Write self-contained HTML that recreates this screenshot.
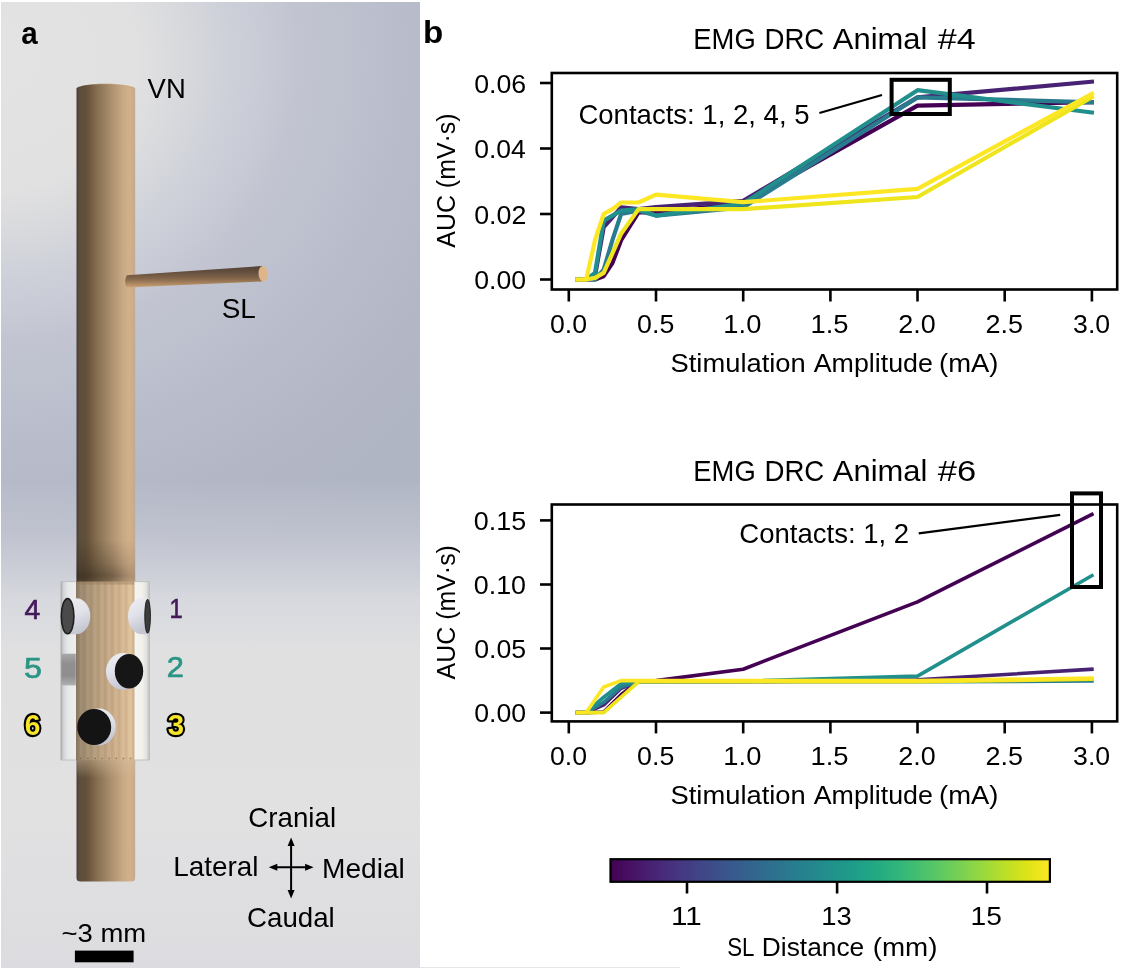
<!DOCTYPE html>
<html><head><meta charset="utf-8"><style>
html,body{margin:0;padding:0;background:#fff;}
body{width:1125px;height:971px;overflow:hidden;position:relative;}
svg{position:absolute;left:0;top:0;will-change:transform;}
text{font-family:"Liberation Sans", sans-serif;}
</style></head><body>
<svg width="1125" height="971" viewBox="0 0 1125 971">
<defs>
<linearGradient id="vir" x1="0" x2="1" y1="0" y2="0"><stop offset="0.000" stop-color="#440154"/>
<stop offset="0.050" stop-color="#471365"/>
<stop offset="0.100" stop-color="#482475"/>
<stop offset="0.150" stop-color="#463480"/>
<stop offset="0.200" stop-color="#414487"/>
<stop offset="0.250" stop-color="#3b528b"/>
<stop offset="0.300" stop-color="#355f8d"/>
<stop offset="0.350" stop-color="#2f6c8e"/>
<stop offset="0.400" stop-color="#2a788e"/>
<stop offset="0.450" stop-color="#25848e"/>
<stop offset="0.500" stop-color="#21918c"/>
<stop offset="0.550" stop-color="#1e9c89"/>
<stop offset="0.600" stop-color="#22a884"/>
<stop offset="0.650" stop-color="#2fb47c"/>
<stop offset="0.700" stop-color="#44bf70"/>
<stop offset="0.750" stop-color="#5ec962"/>
<stop offset="0.800" stop-color="#7ad151"/>
<stop offset="0.850" stop-color="#9bd93c"/>
<stop offset="0.900" stop-color="#bddf26"/>
<stop offset="0.950" stop-color="#dfe318"/>
<stop offset="1.000" stop-color="#fde725"/></linearGradient>
</defs>
<defs>
<radialGradient id="bgr" gradientUnits="userSpaceOnUse" cx="0" cy="60" r="560" gradientTransform="translate(0 60) scale(1.06 1) translate(0 -60)">
  <stop offset="0" stop-color="#e3e3e4"/>
  <stop offset="0.23" stop-color="#e1e1e2"/>
  <stop offset="0.30" stop-color="#d9dadd"/>
  <stop offset="0.39" stop-color="#cdd0d9"/>
  <stop offset="0.45" stop-color="#c8cbd5"/>
  <stop offset="0.5" stop-color="#c2c5d1"/>
  <stop offset="0.7" stop-color="#b8bbca"/>
  <stop offset="0.84" stop-color="#b2b6c5"/>
  <stop offset="1" stop-color="#b0b5c4"/>
</radialGradient>
<linearGradient id="floor" gradientUnits="userSpaceOnUse" x1="0" y1="480" x2="0" y2="968">
  <stop offset="0" stop-color="#dcdde3" stop-opacity="0"/>
  <stop offset="0.031" stop-color="#dcdde3" stop-opacity="0.12"/>
  <stop offset="0.102" stop-color="#dcdde3" stop-opacity="0.3"/>
  <stop offset="0.184" stop-color="#dcdde2" stop-opacity="0.62"/>
  <stop offset="0.246" stop-color="#dddee2" stop-opacity="0.87"/>
  <stop offset="0.348" stop-color="#e0e0e1" stop-opacity="1"/>
  <stop offset="0.7" stop-color="#e1e1e2" stop-opacity="1"/>
  <stop offset="1" stop-color="#dcdce0" stop-opacity="1"/>
</linearGradient>
<linearGradient id="nerve" x1="0" y1="0" x2="1" y2="0">
  <stop offset="0" stop-color="#4a3c34"/>
  <stop offset="0.05" stop-color="#5c4e3c"/>
  <stop offset="0.15" stop-color="#60503a"/>
  <stop offset="0.22" stop-color="#6c583e"/>
  <stop offset="0.3" stop-color="#7e6548"/>
  <stop offset="0.4" stop-color="#8c7558"/>
  <stop offset="0.5" stop-color="#9c8462"/>
  <stop offset="0.6" stop-color="#ae9070"/>
  <stop offset="0.7" stop-color="#bc9d7a"/>
  <stop offset="0.8" stop-color="#c9aa88"/>
  <stop offset="0.9" stop-color="#d2b088"/>
  <stop offset="0.95" stop-color="#cfad88"/>
  <stop offset="1" stop-color="#bcab98"/>
</linearGradient>
<linearGradient id="nshade" x1="0" y1="0" x2="0" y2="1">
  <stop offset="0" stop-color="#2a2014" stop-opacity="0"/>
  <stop offset="0.55" stop-color="#2a2014" stop-opacity="0.25"/>
  <stop offset="0.85" stop-color="#2a2014" stop-opacity="0.5"/>
  <stop offset="1" stop-color="#2a2014" stop-opacity="0.35"/>
</linearGradient>
<linearGradient id="nshadeh" x1="0" y1="0" x2="1" y2="0">
  <stop offset="0" stop-color="#fff" stop-opacity="1"/>
  <stop offset="0.6" stop-color="#fff" stop-opacity="0.9"/>
  <stop offset="1" stop-color="#fff" stop-opacity="0.3"/>
</linearGradient>
<mask id="shm"><rect x="76" y="540" width="60" height="42" fill="url(#nshadeh)"/></mask>
<linearGradient id="ninner" x1="0" y1="0" x2="1" y2="0">
  <stop offset="0" stop-color="#8a7a66"/>
  <stop offset="0.1" stop-color="#9e8a70"/>
  <stop offset="0.3" stop-color="#b29a7a"/>
  <stop offset="0.5" stop-color="#c2a684"/>
  <stop offset="0.7" stop-color="#cfb18c"/>
  <stop offset="0.85" stop-color="#dabb96"/>
  <stop offset="0.95" stop-color="#dfc29a"/>
  <stop offset="1" stop-color="#d2b898"/>
</linearGradient>
<pattern id="stripes" patternUnits="userSpaceOnUse" width="7" height="10" x="76">
  <rect x="0" y="0" width="2.5" height="10" fill="#5a4830" opacity="0.07"/>
  <rect x="4" y="0" width="1.5" height="10" fill="#ffffff" opacity="0.06"/>
</pattern>
<linearGradient id="sl" x1="0" y1="0" x2="0" y2="1">
  <stop offset="0" stop-color="#504034"/>
  <stop offset="0.3" stop-color="#665040"/>
  <stop offset="0.6" stop-color="#86684c"/>
  <stop offset="0.85" stop-color="#b28c64"/>
  <stop offset="1" stop-color="#cca676"/>
</linearGradient>
<linearGradient id="cuffL" x1="0" y1="0" x2="1" y2="0">
  <stop offset="0" stop-color="#a0a0a2"/>
  <stop offset="0.15" stop-color="#cfd1d3"/>
  <stop offset="0.45" stop-color="#e6e8e8"/>
  <stop offset="1" stop-color="#eeeeec"/>
</linearGradient>
<linearGradient id="cuffR" x1="0" y1="0" x2="1" y2="0">
  <stop offset="0" stop-color="#f6f4ee"/>
  <stop offset="0.5" stop-color="#f2f1ec"/>
  <stop offset="0.8" stop-color="#e2e2e0"/>
  <stop offset="1" stop-color="#bcbcbc"/>
</linearGradient>
<linearGradient id="c5" x1="0" y1="0" x2="0" y2="1">
  <stop offset="0" stop-color="#a8a8a8"/>
  <stop offset="0.3" stop-color="#909090"/>
  <stop offset="0.7" stop-color="#8e8e8e"/>
  <stop offset="1" stop-color="#b0b0b0"/>
</linearGradient>
<linearGradient id="cw" x1="0" y1="0" x2="0.3" y2="1">
  <stop offset="0" stop-color="#eeeff3"/>
  <stop offset="0.5" stop-color="#e2e3ea"/>
  <stop offset="1" stop-color="#c4c6d2"/>
</linearGradient>
</defs>
<!-- background -->
<rect x="1" y="2" width="419" height="966" fill="url(#bgr)"/>
<rect x="1" y="480" width="419" height="488" fill="url(#floor)"/>
<!-- nerve -->
<path d="M76.5,88.5 C76.5,85.6 91,83.4 106,83.4 C121,83.4 135.2,85.6 135.2,88.5 L135.2,878 Q135.2,881.5 131,881.5 L80.5,881.5 Q76.5,881.5 76.5,878 Z" fill="url(#nerve)"/>
<rect x="76.5" y="540" width="58.7" height="42" fill="url(#nshade)" mask="url(#shm)"/>
<path d="M77.2,87.6 C77.5,85.3 91,83.6 106,83.6 C121,83.6 134.5,85.3 134.6,87.6" fill="none" stroke="#f0ebe0" stroke-width="1" opacity="0.55"/>
<!-- SL branch -->
<path d="M127,275.2 L262,266 Q268,273 262,281.5 L127,287.6 Q123,281.4 127,275.2 Z" fill="url(#sl)"/>
<ellipse cx="263" cy="273.8" rx="4.5" ry="7.8" fill="#dfb489" transform="rotate(-4 263 273.8)"/>
<!-- cuff -->
<rect x="60.8" y="581.6" width="15.2" height="178.4" fill="url(#cuffL)"/>
<rect x="134.3" y="581.6" width="15.2" height="178.4" fill="url(#cuffR)"/>
<rect x="76" y="581.6" width="58.3" height="178.4" fill="url(#ninner)"/>
<rect x="76" y="581.6" width="58.3" height="178.4" fill="url(#stripes)"/>
<rect x="76" y="581.6" width="58.3" height="3" fill="#8a7050" opacity="0.35"/>
<path d="M76,581.6 L60.8,581.6 L60.8,760 L76,760 M134.3,581.6 L149.5,581.6 L149.5,760 L134.3,760" fill="none" stroke="#c0c0c0" stroke-width="1"/>
<linearGradient id="below" x1="0" y1="0" x2="0" y2="1"><stop offset="0" stop-color="#d8c0a0" stop-opacity="0.45"/><stop offset="1" stop-color="#d8c0a0" stop-opacity="0"/></linearGradient>
<rect x="76.5" y="760" width="58.7" height="18" fill="url(#below)"/>
<line x1="80" y1="758.5" x2="132" y2="758.5" stroke="#6a5438" stroke-width="1.6" stroke-dasharray="1.6 5.5" opacity="0.6"/>
<!-- contact 5 -->
<rect x="61.3" y="653.7" width="14.5" height="31.7" fill="url(#c5)"/>
<!-- contact 4 -->
<path d="M67.5,598.2 L76,598.2 A14.3,18 0 0 1 76,634.2 L67.5,634.2 Z" fill="url(#cw)"/>
<ellipse cx="67.6" cy="616.2" rx="6.3" ry="17.6" fill="#4a4a4a" stroke="#1e1e1e" stroke-width="1.6"/>
<!-- contact 1 -->
<path d="M147.5,598.2 L142,598.2 A14,18 0 0 0 142,634.2 L147.5,634.2 Z" fill="url(#cw)"/>
<ellipse cx="147.6" cy="616.2" rx="2.8" ry="17" fill="#3c3c3c" stroke="#1e1e1e" stroke-width="1"/>
<!-- contact 2 -->
<ellipse cx="123" cy="671.5" rx="17" ry="18.5" fill="url(#cw)"/>
<ellipse cx="129" cy="671.3" rx="14.2" ry="17.3" fill="#161616"/>
<!-- contact 6 -->
<ellipse cx="99" cy="727" rx="16.8" ry="18.5" fill="url(#cw)"/>
<ellipse cx="94.2" cy="727" rx="17" ry="18" fill="#141414"/>
<g>
<text x="21.33" y="43.70" font-size="31.50" font-weight="bold" textLength="16.48" lengthAdjust="spacingAndGlyphs">a</text>
<text x="147.58" y="98.00" font-size="28.00" textLength="38.16" lengthAdjust="spacingAndGlyphs">VN</text>
<text x="221.73" y="317.50" font-size="28.50" textLength="34.20" lengthAdjust="spacingAndGlyphs">SL</text>
<text x="24.55" y="618.80" font-size="28.50" textLength="15.67" lengthAdjust="spacingAndGlyphs" fill="#45195a" stroke="#45195a" stroke-width="0.7">4</text>
<text x="23.91" y="677.70" font-size="29.50" textLength="17.95" lengthAdjust="spacingAndGlyphs" fill="#2b9585" stroke="#2b9585" stroke-width="0.7">5</text>
<text x="24.87" y="735.40" font-size="30.00" font-weight="bold" textLength="15.65" lengthAdjust="spacingAndGlyphs" fill="#f6e52a" stroke="#000" stroke-width="4.4" paint-order="stroke" stroke-linejoin="round">6</text>
<text x="169.40" y="618.00" font-size="28.50" textLength="13.16" lengthAdjust="spacingAndGlyphs" fill="#45195a" stroke="#45195a" stroke-width="0.7">1</text>
<text x="166.65" y="677.20" font-size="29.00" textLength="17.09" lengthAdjust="spacingAndGlyphs" fill="#2b9585" stroke="#2b9585" stroke-width="0.7">2</text>
<text x="167.73" y="735.40" font-size="30.00" font-weight="bold" textLength="16.34" lengthAdjust="spacingAndGlyphs" fill="#f6e52a" stroke="#000" stroke-width="4.4" paint-order="stroke" stroke-linejoin="round">3</text>
<text x="248.39" y="826.70" font-size="27.20" textLength="87.66" lengthAdjust="spacingAndGlyphs">Cranial</text>
<text x="173.21" y="875.80" font-size="27.40" textLength="85.36" lengthAdjust="spacingAndGlyphs">Lateral</text>
<text x="321.99" y="878.00" font-size="27.40" textLength="82.89" lengthAdjust="spacingAndGlyphs">Medial</text>
<text x="246.99" y="927.10" font-size="27.20" textLength="87.76" lengthAdjust="spacingAndGlyphs">Caudal</text>
<text x="61.47" y="941.60" font-size="26.00" textLength="84.75" lengthAdjust="spacingAndGlyphs">~3 mm</text>
</g>
<rect x="74.9" y="950.6" width="58.7" height="11.7" fill="#000"/>
<!-- compass -->
<g stroke="#000" stroke-width="2" fill="#000">
<line x1="291.1" y1="842" x2="291.1" y2="894"/>
<line x1="273" y1="867.2" x2="309.5" y2="867.2"/>
</g>
<g fill="#000">
<path d="M291.1,837.5 L287.6,846 L294.6,846 Z"/>
<path d="M291.1,898.5 L287.6,890 L294.6,890 Z"/>
<path d="M268.8,867.2 L277.3,863.7 L277.3,870.7 Z"/>
<path d="M313.6,867.2 L305.1,863.7 L305.1,870.7 Z"/>
</g>

<g>
<text x="422.92" y="43.30" font-size="31.00" font-weight="bold" textLength="20.24" lengthAdjust="spacingAndGlyphs">b</text>
<path d="M577.5,279.5 L586.2,279.5 L595.0,279.5 L603.7,276.2 L612.4,263.1 L621.1,240.2 L638.5,212.4 L656.0,212.4 L743.2,203.5 L917.5,105.6 L1091.9,102.3" fill="none" stroke="#440154" stroke-width="4.2" stroke-linejoin="round" stroke-linecap="square"/>
<path d="M577.5,279.5 L586.2,279.5 L595.0,276.2 L603.7,227.1 L612.4,217.3 L621.1,207.4 L638.5,209.1 L656.0,207.1 L743.2,200.9 L917.5,97.4 L1091.9,81.7" fill="none" stroke="#482374" stroke-width="4.2" stroke-linejoin="round" stroke-linecap="square"/>
<path d="M577.5,279.5 L586.2,279.5 L595.0,279.5 L603.7,269.7 L612.4,240.2 L621.1,214.0 L638.5,210.7 L656.0,215.6 L743.2,207.4 L917.5,97.4 L1091.9,102.3" fill="none" stroke="#297b8e" stroke-width="4.2" stroke-linejoin="round" stroke-linecap="square"/>
<path d="M577.5,279.5 L586.2,279.5 L595.0,272.9 L603.7,220.6 L612.4,215.6 L621.1,210.7 L638.5,209.1 L656.0,215.6 L743.2,203.5 L917.5,90.2 L1091.9,112.5" fill="none" stroke="#21908d" stroke-width="4.2" stroke-linejoin="round" stroke-linecap="square"/>
<path d="M577.5,279.5 L586.2,279.5 L595.0,277.9 L603.7,272.9 L612.4,253.3 L621.1,233.7 L638.5,209.1 L656.0,209.1 L743.2,209.1 L917.5,197.0 L1091.9,97.1" fill="none" stroke="#efe51c" stroke-width="4.2" stroke-linejoin="round" stroke-linecap="square"/>
<path d="M577.5,279.5 L586.2,279.5 L595.0,240.2 L603.7,214.0 L612.4,209.1 L621.1,202.5 L638.5,202.5 L656.0,194.7 L743.2,202.2 L917.5,188.8 L1091.9,93.8" fill="none" stroke="#fde725" stroke-width="4.2" stroke-linejoin="round" stroke-linecap="square"/>
<rect x="551.8" y="73.0" width="565.4" height="216.5" fill="none" stroke="#000" stroke-width="2.6"/>
<line x1="540" x2="551.8" y1="279.5" y2="279.5" stroke="#000" stroke-width="2.6"/>
<text x="474.16" y="289.10" font-size="25.00" textLength="51.88" lengthAdjust="spacingAndGlyphs">0.00</text>
<line x1="540" x2="551.8" y1="214.0" y2="214.0" stroke="#000" stroke-width="2.6"/>
<text x="474.15" y="223.60" font-size="25.00" textLength="52.20" lengthAdjust="spacingAndGlyphs">0.02</text>
<line x1="540" x2="551.8" y1="148.5" y2="148.5" stroke="#000" stroke-width="2.6"/>
<text x="474.16" y="158.10" font-size="25.00" textLength="51.61" lengthAdjust="spacingAndGlyphs">0.04</text>
<line x1="540" x2="551.8" y1="83.0" y2="83.0" stroke="#000" stroke-width="2.6"/>
<text x="474.16" y="92.60" font-size="25.00" textLength="52.02" lengthAdjust="spacingAndGlyphs">0.06</text>
<line x1="568.8" x2="568.8" y1="289.5" y2="301.5" stroke="#000" stroke-width="2.6"/>
<text x="549.96" y="333.20" font-size="25.00" textLength="37.08" lengthAdjust="spacingAndGlyphs">0.0</text>
<line x1="656.0" x2="656.0" y1="289.5" y2="301.5" stroke="#000" stroke-width="2.6"/>
<text x="637.14" y="333.20" font-size="25.00" textLength="37.17" lengthAdjust="spacingAndGlyphs">0.5</text>
<line x1="743.2" x2="743.2" y1="289.5" y2="301.5" stroke="#000" stroke-width="2.6"/>
<text x="723.39" y="333.20" font-size="25.00" textLength="37.95" lengthAdjust="spacingAndGlyphs">1.0</text>
<line x1="830.4" x2="830.4" y1="289.5" y2="301.5" stroke="#000" stroke-width="2.6"/>
<text x="810.57" y="333.20" font-size="25.00" textLength="38.03" lengthAdjust="spacingAndGlyphs">1.5</text>
<line x1="917.5" x2="917.5" y1="289.5" y2="301.5" stroke="#000" stroke-width="2.6"/>
<text x="898.39" y="333.20" font-size="25.00" textLength="37.40" lengthAdjust="spacingAndGlyphs">2.0</text>
<line x1="1004.7" x2="1004.7" y1="289.5" y2="301.5" stroke="#000" stroke-width="2.6"/>
<text x="985.57" y="333.20" font-size="25.00" textLength="37.49" lengthAdjust="spacingAndGlyphs">2.5</text>
<line x1="1091.9" x2="1091.9" y1="289.5" y2="301.5" stroke="#000" stroke-width="2.6"/>
<text x="1073.09" y="333.20" font-size="25.00" textLength="37.06" lengthAdjust="spacingAndGlyphs">3.0</text>
<text x="670.56" y="371.90" font-size="25.20" textLength="135.22" lengthAdjust="spacingAndGlyphs">Stimulation</text>
<text x="813.75" y="371.90" font-size="25.20" textLength="119.14" lengthAdjust="spacingAndGlyphs">Amplitude</text>
<text x="939.10" y="371.90" font-size="25.20" textLength="59.30" lengthAdjust="spacingAndGlyphs">(mA)</text>
<g transform="rotate(-90)"><text x="-247.70" y="454.70" font-size="25.00" textLength="134.29" lengthAdjust="spacingAndGlyphs">AUC (mV&#183;s)</text></g>
<text x="693.35" y="48.70" font-size="29.00" textLength="62.39" lengthAdjust="spacingAndGlyphs">EMG</text>
<text x="764.43" y="48.70" font-size="29.00" textLength="59.92" lengthAdjust="spacingAndGlyphs">DRC</text>
<text x="832.84" y="48.70" font-size="29.00" textLength="94.53" lengthAdjust="spacingAndGlyphs">Animal</text>
<text x="937.85" y="48.70" font-size="29.00" textLength="37.85" lengthAdjust="spacingAndGlyphs">#4</text>
<text x="578.40" y="124.30" font-size="27.50" textLength="231.15" lengthAdjust="spacingAndGlyphs">Contacts: 1, 2, 4, 5</text>
<rect x="891.6" y="79.8" width="58.2" height="34.2" fill="none" stroke="#000" stroke-width="4"/>
<line x1="819.4" y1="113.0" x2="882.0" y2="95.0" stroke="#000" stroke-width="2.3"/>
<path d="M577.5,712.6 L586.2,712.6 L603.7,712.0 L621.1,694.7 L638.5,681.2 L656.0,680.6 L743.2,669.2 L917.5,601.9 L1091.9,514.4" fill="none" stroke="#440154" stroke-width="3.6" stroke-linejoin="round" stroke-linecap="square"/>
<path d="M577.5,712.6 L586.2,712.6 L603.7,704.9 L621.1,688.3 L638.5,681.8 L656.0,681.8 L743.2,681.8 L917.5,679.8 L1091.9,669.2" fill="none" stroke="#482374" stroke-width="3.6" stroke-linejoin="round" stroke-linecap="square"/>
<path d="M577.5,712.6 L586.2,712.6 L603.7,702.3 L621.1,687.0 L638.5,681.8 L656.0,681.8 L743.2,681.8 L917.5,681.8 L1091.9,681.0" fill="none" stroke="#297b8e" stroke-width="3.6" stroke-linejoin="round" stroke-linecap="square"/>
<path d="M577.5,712.6 L586.2,712.6 L603.7,697.2 L621.1,683.8 L638.5,681.8 L656.0,681.8 L743.2,681.2 L917.5,676.1 L1091.9,575.6" fill="none" stroke="#21908d" stroke-width="3.6" stroke-linejoin="round" stroke-linecap="square"/>
<path d="M577.5,712.6 L586.2,712.6 L603.7,712.6 L621.1,697.2 L638.5,681.8 L656.0,681.8 L743.2,681.8 L917.5,681.8 L1091.9,679.3" fill="none" stroke="#efe51c" stroke-width="3.6" stroke-linejoin="round" stroke-linecap="square"/>
<path d="M577.5,712.6 L586.2,712.6 L603.7,687.0 L621.1,680.6 L638.5,680.6 L656.0,680.6 L743.2,680.6 L917.5,680.6 L1091.9,678.1" fill="none" stroke="#fde725" stroke-width="3.6" stroke-linejoin="round" stroke-linecap="square"/>
<rect x="551.8" y="504.5" width="565.4" height="216.9" fill="none" stroke="#000" stroke-width="2.6"/>
<line x1="540" x2="551.8" y1="712.6" y2="712.6" stroke="#000" stroke-width="2.6"/>
<text x="474.16" y="722.20" font-size="25.00" textLength="51.88" lengthAdjust="spacingAndGlyphs">0.00</text>
<line x1="540" x2="551.8" y1="648.5" y2="648.5" stroke="#000" stroke-width="2.6"/>
<text x="474.16" y="658.14" font-size="25.00" textLength="51.96" lengthAdjust="spacingAndGlyphs">0.05</text>
<line x1="540" x2="551.8" y1="584.5" y2="584.5" stroke="#000" stroke-width="2.6"/>
<text x="473.75" y="594.07" font-size="25.00" textLength="52.30" lengthAdjust="spacingAndGlyphs">0.10</text>
<line x1="540" x2="551.8" y1="520.4" y2="520.4" stroke="#000" stroke-width="2.6"/>
<text x="473.75" y="530.00" font-size="25.00" textLength="52.38" lengthAdjust="spacingAndGlyphs">0.15</text>
<line x1="568.8" x2="568.8" y1="721.4" y2="733.4" stroke="#000" stroke-width="2.6"/>
<text x="549.96" y="765.10" font-size="25.00" textLength="37.08" lengthAdjust="spacingAndGlyphs">0.0</text>
<line x1="656.0" x2="656.0" y1="721.4" y2="733.4" stroke="#000" stroke-width="2.6"/>
<text x="637.14" y="765.10" font-size="25.00" textLength="37.17" lengthAdjust="spacingAndGlyphs">0.5</text>
<line x1="743.2" x2="743.2" y1="721.4" y2="733.4" stroke="#000" stroke-width="2.6"/>
<text x="723.39" y="765.10" font-size="25.00" textLength="37.95" lengthAdjust="spacingAndGlyphs">1.0</text>
<line x1="830.4" x2="830.4" y1="721.4" y2="733.4" stroke="#000" stroke-width="2.6"/>
<text x="810.57" y="765.10" font-size="25.00" textLength="38.03" lengthAdjust="spacingAndGlyphs">1.5</text>
<line x1="917.5" x2="917.5" y1="721.4" y2="733.4" stroke="#000" stroke-width="2.6"/>
<text x="898.39" y="765.10" font-size="25.00" textLength="37.40" lengthAdjust="spacingAndGlyphs">2.0</text>
<line x1="1004.7" x2="1004.7" y1="721.4" y2="733.4" stroke="#000" stroke-width="2.6"/>
<text x="985.57" y="765.10" font-size="25.00" textLength="37.49" lengthAdjust="spacingAndGlyphs">2.5</text>
<line x1="1091.9" x2="1091.9" y1="721.4" y2="733.4" stroke="#000" stroke-width="2.6"/>
<text x="1073.09" y="765.10" font-size="25.00" textLength="37.06" lengthAdjust="spacingAndGlyphs">3.0</text>
<text x="670.56" y="803.80" font-size="25.20" textLength="135.22" lengthAdjust="spacingAndGlyphs">Stimulation</text>
<text x="813.75" y="803.80" font-size="25.20" textLength="119.14" lengthAdjust="spacingAndGlyphs">Amplitude</text>
<text x="939.10" y="803.80" font-size="25.20" textLength="59.30" lengthAdjust="spacingAndGlyphs">(mA)</text>
<g transform="rotate(-90)"><text x="-679.40" y="454.70" font-size="25.00" textLength="134.29" lengthAdjust="spacingAndGlyphs">AUC (mV&#183;s)</text></g>
<text x="693.35" y="481.30" font-size="29.00" textLength="62.39" lengthAdjust="spacingAndGlyphs">EMG</text>
<text x="764.43" y="481.30" font-size="29.00" textLength="59.92" lengthAdjust="spacingAndGlyphs">DRC</text>
<text x="832.84" y="481.30" font-size="29.00" textLength="94.53" lengthAdjust="spacingAndGlyphs">Animal</text>
<text x="937.85" y="481.30" font-size="29.00" textLength="38.37" lengthAdjust="spacingAndGlyphs">#6</text>
<text x="739.30" y="542.70" font-size="27.50" textLength="169.88" lengthAdjust="spacingAndGlyphs">Contacts: 1, 2</text>
<rect x="1072.0" y="493.4" width="29.0" height="93.6" fill="none" stroke="#000" stroke-width="4"/>
<line x1="918.7" y1="533.3" x2="1060.2" y2="514.9" stroke="#000" stroke-width="2.3"/>
<rect x="610.5" y="859.2" width="439.4" height="22.6" fill="url(#vir)" stroke="#000" stroke-width="2.2"/>
<line x1="687.0" x2="687.0" y1="881.8" y2="893.5" stroke="#000" stroke-width="2.6"/>
<text x="670.99" y="924.80" font-size="25.00" textLength="30.76" lengthAdjust="spacingAndGlyphs">11</text>
<line x1="837.1" x2="837.1" y1="881.8" y2="893.5" stroke="#000" stroke-width="2.6"/>
<text x="821.22" y="924.80" font-size="25.00" textLength="30.38" lengthAdjust="spacingAndGlyphs">13</text>
<line x1="987.0" x2="987.0" y1="881.8" y2="893.5" stroke="#000" stroke-width="2.6"/>
<text x="970.55" y="924.80" font-size="25.00" textLength="31.33" lengthAdjust="spacingAndGlyphs">15</text>
<text x="727.19" y="956.20" font-size="25.20" textLength="27.25" lengthAdjust="spacingAndGlyphs">SL</text>
<text x="761.84" y="956.20" font-size="25.20" textLength="102.43" lengthAdjust="spacingAndGlyphs">Distance</text>
<text x="872.68" y="956.20" font-size="25.20" textLength="64.74" lengthAdjust="spacingAndGlyphs">(mm)</text>
<line x1="420" y1="967.5" x2="680" y2="967.5" stroke="#e6e6e6" stroke-width="1"/>
</g>
</svg>
</body></html>
